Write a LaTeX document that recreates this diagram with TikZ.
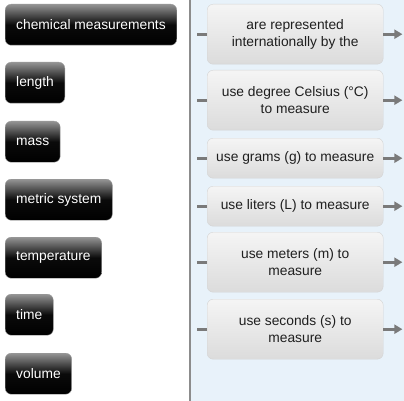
\documentclass[tikz,border=0pt]{standalone}
\usepackage{fontspec}
\setmainfont{Liberation Sans}
\usepackage{tikz}
\usetikzlibrary{arrows.meta}
\definecolor{panelblue}{HTML}{E8F2FA}
\definecolor{stubgray}{HTML}{7A7A7A}
\tikzset{
    term/.style={anchor=north west, rounded corners=6pt, draw=black!40, top color=black!42, bottom color=black, middle color=black!96, text=white, inner xsep=11pt, minimum height=41pt}, % 左侧黑色词条
    phrase/.style={anchor=north west, rounded corners=6pt, draw=black!17, top color=black!4, bottom color=black!14, text=black!88, align=center, minimum width=176pt}, % 右侧灰色短语框
    stub/.style={stubgray, line width=3pt} % 短线与箭头
}
\begin{document}
\begin{tikzpicture}[x=1pt, y=-1pt, font=\fontsize{13.8}{17.5}\selectfont]
            \useasboundingbox (0,0) rectangle (404,401);

            \fill[panelblue] (191,0) rectangle (404,401);
            \draw[black!45, line width=2pt] (190,0) -- (190,401);

            \foreach \y/\txt [count=\i] in {4/chemical measurements, 62/length, 121/mass, 179/metric system, 237/temperature, 294/time, 353/volume} {\node[term] (t\i) at (5,\y) {\txt};}

            \foreach \y/\h/\txt [count=\i] in {4/60/{are represented\\internationally by the}, 70/60/{use degree Celsius (°C)\\to measure}, 138/40/{use grams (g) to measure}, 186/40/{use liters (L) to measure}, 232/60/{use meters (m) to\\measure}, 299/60/{use seconds (s) to\\measure}} {
                \node[phrase, minimum height=\h pt] (p\i) at (207,\y) {\txt};
                \coordinate (l\i) at ([xshift=-10pt]p\i.west);
                \coordinate (a\i) at ([xshift=19pt]p\i.east);
                \draw[stub] (l\i) -- (p\i.west);
                \draw[stub, -{Triangle[length=8pt, width=9pt]}] (p\i.east) -- (a\i);
            }
        \end{tikzpicture}
\end{document}
